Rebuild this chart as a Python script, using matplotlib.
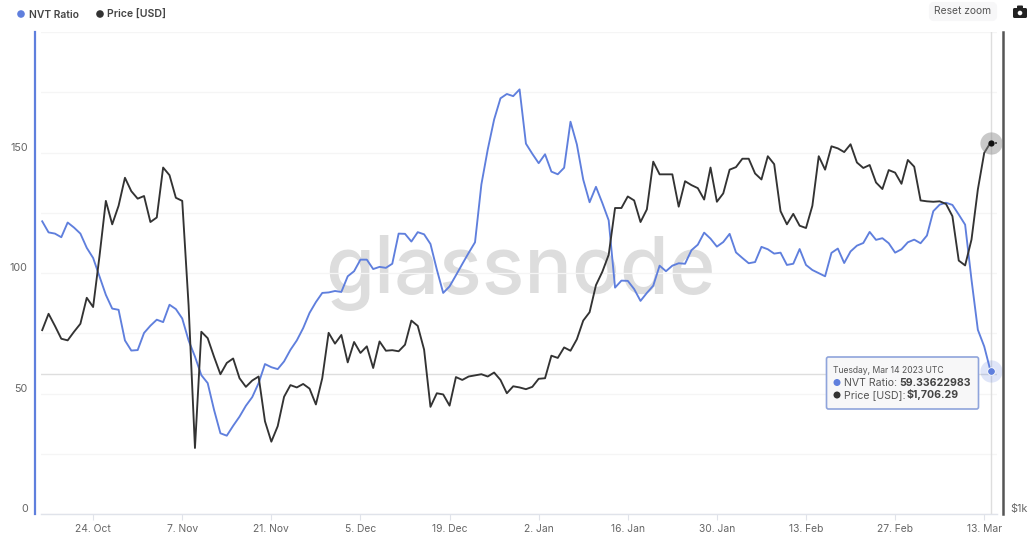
#!/usr/bin/env python3
"""
NVT ratio against price, with the crosshair and tooltip on the last day.
"""

import matplotlib
matplotlib.use("Agg")
import matplotlib.pyplot as plt
from matplotlib.patches import Circle, FancyBboxPatch
import pandas as pd


BLUE = "#5f7fdd"
BLACK = "#333333"
GRID_C = "#f5f5f5"
AXIS_C = "#e0e3ea"
CROSS_C = "#dedede"
TEXT_C = "#666666"
LEGEND_C = "#444444"

START_DATE = "2022-10-16"

nvt_ratio = [
    121.5, 116.9, 116.4, 114.9, 121, 118.9, 116.4, 110.5, 106.3, 98.7,
    91, 85.3, 84.8, 72.1, 67.9, 68.1, 75.2, 78.2, 80.7, 79.7,
    86.9, 85.1, 81.2, 72.1, 65.4, 57.7, 54.4, 43.3, 33.6, 32.6,
    36.7, 40.5, 45, 48.6, 54.4, 62.3, 61, 60.2, 63.4, 68.2,
    72.1, 77.2, 83.5, 88, 91.8, 92, 92.6, 92.2, 98.7, 100.8,
    105.6, 105.6, 101.7, 102.6, 102.2, 103.9, 116.4, 116.3, 113.1, 117,
    116.1, 112.1, 101.5, 91.8, 94.5, 99.1, 103.8, 108.4, 112.8, 136.8,
    151.3, 163.7, 172.5, 174.3, 173.4, 176.2, 153.7, 149.5, 145.6, 149.3,
    142.1, 141, 143.7, 162.8, 153.4, 138.8, 129.4, 135.8, 129.1, 121.9,
    94, 96.9, 96.8, 93.4, 88.5, 91.8, 94.8, 103.1, 100.8, 103.1,
    104.1, 103.9, 109.5, 111.8, 116.8, 114.3, 111, 112.9, 116.3, 108.6,
    106.3, 104.1, 104.6, 110.9, 109.9, 108.1, 108.5, 103.4, 103.9, 110,
    103.4, 101.3, 100, 98.7, 108.4, 110.2, 104.2, 109, 111.4, 112.5,
    117.1, 113.8, 114.5, 112.4, 108.5, 109.9, 112.8, 113.9, 112.4, 115.6,
    125.7, 128.4, 129.2, 128.3, 124.3, 120.1, 97.3, 76.5, 69.6, 59.33622983,
]

price_usd = [
    1303, 1334, 1311, 1287, 1284, 1300, 1315, 1365, 1347, 1449,
    1569, 1517, 1558, 1622, 1591, 1574, 1580, 1522, 1532, 1646,
    1628, 1576, 1569, 1350, 1100, 1300, 1288, 1254, 1223, 1243,
    1251, 1216, 1201, 1212, 1219, 1143, 1110, 1135, 1184, 1204,
    1200, 1206, 1198, 1171, 1216, 1298, 1278, 1294, 1244, 1281,
    1261, 1273, 1234, 1282, 1265, 1266, 1264, 1276, 1321, 1311,
    1267, 1167, 1190, 1188, 1169, 1218, 1213, 1219, 1221, 1223,
    1219, 1226, 1213, 1190, 1202, 1200, 1197, 1201, 1215, 1216,
    1256, 1252, 1271, 1265, 1286, 1321, 1337, 1390, 1417, 1452,
    1553, 1553, 1579, 1570, 1522, 1550, 1660, 1630, 1630, 1630,
    1556, 1614, 1605, 1598, 1572, 1646, 1567, 1586, 1641, 1647,
    1667, 1667, 1632, 1618, 1673, 1654, 1546, 1517, 1540, 1514,
    1509, 1558, 1673, 1641, 1697, 1692, 1683, 1702, 1658, 1645,
    1652, 1611, 1596, 1640, 1634, 1608, 1664, 1648, 1570, 1568,
    1567, 1568, 1562, 1535, 1440, 1430, 1484, 1595, 1681, 1706.29,
]

tick_dates = ["2022-10-24", "2022-11-07", "2022-11-21", "2022-12-05", "2022-12-19", "2023-01-02",
              "2023-01-16", "2023-01-30", "2023-02-13", "2023-02-27", "2023-03-13"]
tick_labels = ["24. Oct", "7. Nov", "21. Nov", "5. Dec", "19. Dec", "2. Jan",
               "16. Jan", "30. Jan", "13. Feb", "27. Feb", "13. Mar"]
grid_values = [0, 25, 50, 75, 100, 125, 150, 175, 200]
left_labels = ["0", "", "50", "", "100", "", "150", "", ""]

W, H = 1030, 539
AX_L, AX_R, AX_T, AX_B = 41, 997, 32, 514.3
PX_PER_DAY = 6.365
FIRST_PX = 42.2

plt.rcParams["font.family"] = ["Inter", "DejaVu Sans"]

dates = pd.date_range(START_DATE, periods=len(nvt_ratio), freq="D")

fig = plt.figure(figsize=(W / 100, H / 100), dpi=100, facecolor="white")
ax = fig.add_axes([AX_L / W, 1 - AX_B / H, (AX_R - AX_L) / W, (AX_B - AX_T) / H])
ax.patch.set_alpha(0)

# watermark sits under everything
fig.text(520 / W, 1 - 293 / H, "glassnode", fontsize=57, fontweight="medium", color="#dddddd",
         ha="center", va="baseline", zorder=-1)

x_left = dates[0] - pd.Timedelta(days=(FIRST_PX - AX_L) / PX_PER_DAY)
x_right = dates[0] + pd.Timedelta(days=(AX_R - FIRST_PX) / PX_PER_DAY)
ax.set_xlim(x_left, x_right)
ax.set_ylim(0, 200)

# spine moves reset the ticks, so they come before any tick styling
for side in ("top", "right"):
    ax.spines[side].set_visible(False)
ax.spines["bottom"].set_color(AXIS_C)
ax.spines["bottom"].set_linewidth(1.0)
ax.spines["left"].set_color(BLUE)
ax.spines["left"].set_linewidth(1.6)
ax.spines["left"].set_position(("outward", 4))

ax.set_yticks(grid_values)
ax.set_yticklabels(left_labels)
ax.grid(axis="y", color=GRID_C, lw=0.9)
ax.set_axisbelow(True)
ax.set_xticks(pd.to_datetime(tick_dates))
ax.set_xticklabels(tick_labels)
ax.tick_params(axis="x", length=4, width=0.8, color=AXIS_C, labelsize=7.4, labelcolor=TEXT_C, pad=3)
ax.tick_params(axis="y", length=0, labelsize=7.8, labelcolor=TEXT_C, pad=5.5)
# left labels sit just above their gridlines
for lab in ax.get_yticklabels():
    lab.set_verticalalignment("bottom")

ax.axhline(58.2, color=CROSS_C, lw=1.0, zorder=1)
ax.axvline(dates[-1], color=CROSS_C, lw=1.0, zorder=1)
ax.plot(dates, nvt_ratio, color=BLUE, lw=1.35, zorder=3)

ax2 = ax.twinx()
ax2.patch.set_alpha(0)
ax2.set_yscale("log")
ax2.set_ylim(1000, 2000)
for side in ("top", "left", "bottom"):
    ax2.spines[side].set_visible(False)
ax2.spines["right"].set_color("#555555")
ax2.spines["right"].set_linewidth(1.8)
ax2.spines["right"].set_position(("outward", 4.3))
ax2.set_yticks([1000])
ax2.set_yticklabels(["$1k"])
ax2.minorticks_off()
ax2.tick_params(axis="y", length=0, labelsize=7.8, labelcolor=TEXT_C, pad=5)
for lab in ax2.get_yticklabels():
    lab.set_verticalalignment("bottom")
ax2.plot(dates, price_usd, color=BLACK, lw=1.35, zorder=3)

# hover markers on the last day
ax.plot(dates[-1:], nvt_ratio[-1:], "o", ms=16, color=BLUE, alpha=0.2, mew=0, zorder=4, clip_on=False)
ax.plot(dates[-1:], nvt_ratio[-1:], "o", ms=5.5, color=BLUE, mec="white", mew=0.6, zorder=5, clip_on=False)
ax2.plot(dates[-1:], price_usd[-1:], "o", ms=16, color="#888888", alpha=0.45, mew=0, zorder=4, clip_on=False)
ax2.plot(dates[-1:], price_usd[-1:], "o", ms=4.5, color="#111111", mew=0, zorder=5, clip_on=False)

# page furniture in pixel coordinates
ui = fig.add_axes([0, 0, 1, 1], zorder=10)
ui.set_xlim(0, W)
ui.set_ylim(H, 0)
ui.axis("off")

ui.add_patch(Circle((21, 14), 3.8, color=BLUE, lw=0))
ui.text(29, 14.5, "NVT Ratio", fontsize=7.4, fontweight="semibold", color=LEGEND_C, va="center")
ui.add_patch(Circle((100, 14), 3.8, color=BLACK, lw=0))
ui.text(107, 14.5, "Price [USD]", fontsize=7.6, fontweight="semibold", color=LEGEND_C, va="center")

ui.add_patch(FancyBboxPatch((931, 4), 64, 15, boxstyle="round,pad=0,rounding_size=3",
                            fc="#f7f7f8", ec="#f7f7f8", lw=3))
ui.text(963, 11.5, "Reset zoom", fontsize=7.4, color="#555555", ha="center", va="center")

# camera icon
ui.add_patch(FancyBboxPatch((1013, 8), 14, 10, boxstyle="round,pad=0,rounding_size=1.5", fc="#222222", ec="none"))
ui.add_patch(FancyBboxPatch((1017, 5.5), 6, 3, boxstyle="round,pad=0,rounding_size=1", fc="#222222", ec="none"))
ui.add_patch(Circle((1020, 13), 2.3, fc="white", ec="none"))
ui.add_patch(Circle((996, 143), 1, fc="#333333", ec="none"))

# tooltip
ui.add_patch(FancyBboxPatch((826.5, 357), 152, 52, boxstyle="round,pad=0,rounding_size=2",
                            fc="#f7f7f8", ec="#8fa4db", lw=1.2))
ui.text(833, 370.5, "Tuesday, Mar 14 2023 UTC", fontsize=6.2, color="#555555", va="center")
ui.add_patch(Circle((837, 382.5), 3.5, color=BLUE, lw=0))
ui.text(844.5, 382.5, "NVT Ratio:", fontsize=7.6, color="#555555", va="center")
ui.text(899.5, 382.5, f"{nvt_ratio[-1]:.8f}", fontsize=7.6, fontweight="bold", color="#444444", va="center")
ui.add_patch(Circle((837, 395), 3.5, color=BLACK, lw=0))
ui.text(844.5, 395, "Price [USD]:", fontsize=7.6, color="#555555", va="center")
ui.text(907, 395, f"${price_usd[-1]:,.2f}", fontsize=7.6, fontweight="bold", color="#444444", va="center")

fig.savefig("out.png", dpi=100, facecolor="white")
